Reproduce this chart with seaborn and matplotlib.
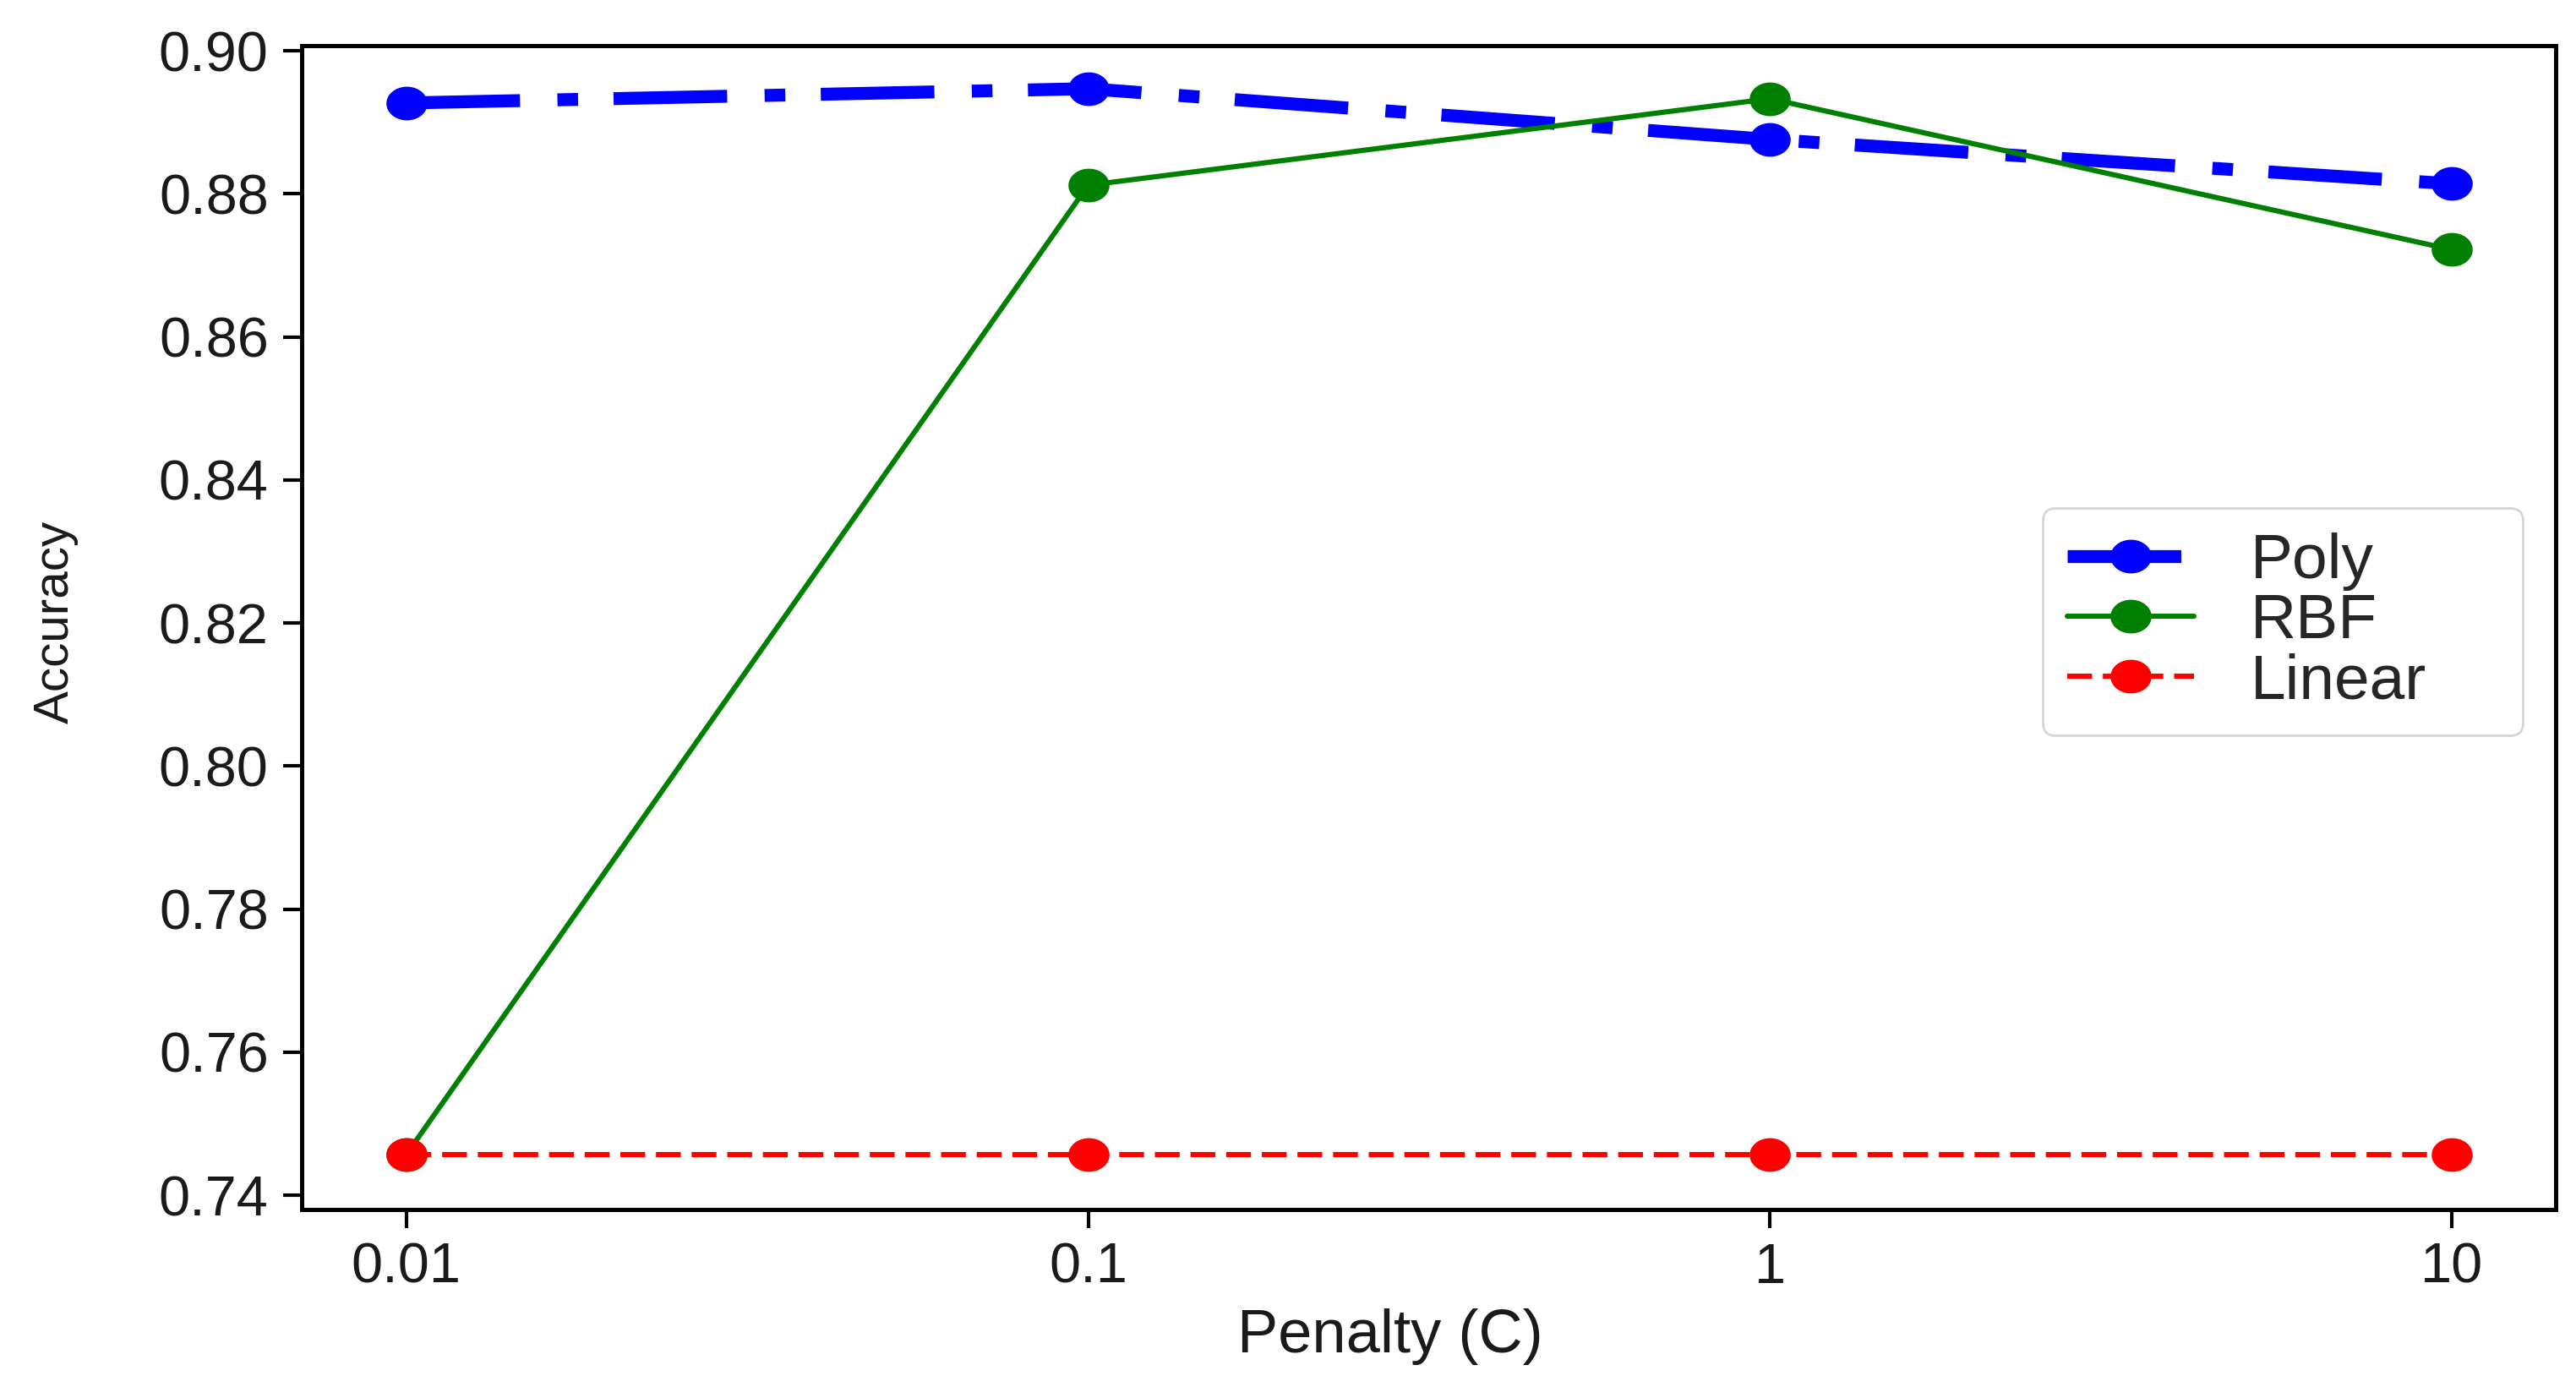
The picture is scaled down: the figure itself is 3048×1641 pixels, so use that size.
import matplotlib
matplotlib.use("Agg")
import matplotlib.pyplot as plt
import seaborn as sns
import pandas as pd
import numpy as np
from matplotlib.path import Path

# ---- data ----
penalty_c = [0.01, 0.1, 1, 10]
tick_labels = ["0.01", "0.1", "1", "10"]
poly_acc = [0.8927, 0.8947, 0.8876, 0.8814]
rbf_acc = [0.7457, 0.8812, 0.8933, 0.8722]
linear_acc = [0.7457, 0.7457, 0.7457, 0.7457]
y_ticks = [0.74, 0.76, 0.78, 0.80, 0.82, 0.84, 0.86, 0.88, 0.90]

sns.set_theme(style="ticks")
plt.rcParams["font.family"] = ["Liberation Sans", "DejaVu Sans"]
plt.rcParams["axes.edgecolor"] = "black"
plt.rcParams["axes.linewidth"] = 1.8
plt.rcParams["xtick.major.size"] = 8
plt.rcParams["ytick.major.size"] = 8
plt.rcParams["xtick.major.width"] = 1.5
plt.rcParams["ytick.major.width"] = 1.5
plt.rcParams["xtick.color"] = "black"
plt.rcParams["ytick.color"] = "black"

# slightly wide elliptical marker (reference image is horizontally stretched)
_t = np.linspace(0, 2 * np.pi, 60)
ellipse = Path(np.column_stack([1.22 * np.cos(_t), np.sin(_t)]), closed=True)

fig = plt.figure(figsize=(15.24, 8.205), dpi=200)
ax = fig.add_axes([0.117, 0.128, 0.875, 0.839])

df_poly = pd.DataFrame({"C": penalty_c, "acc": poly_acc})
df_rbf = pd.DataFrame({"C": penalty_c, "acc": rbf_acc})
df_lin = pd.DataFrame({"C": penalty_c, "acc": linear_acc})

msize = 17.5
sns.lineplot(data=df_poly, x="C", y="acc", ax=ax, color="#0000ff",
             linestyle=(0, (8.8, 2.9, 1.6, 2.75)), linewidth=5.5,
             marker=ellipse, markersize=msize, markeredgewidth=0, label="Poly")
sns.lineplot(data=df_rbf, x="C", y="acc", ax=ax, color="green", linestyle="-",
             linewidth=2.2, marker=ellipse, markersize=msize, markeredgewidth=0, label="RBF")
sns.lineplot(data=df_lin, x="C", y="acc", ax=ax, color="red",
             linestyle=(0, (4.8, 2.1)), linewidth=2.2,
             marker=ellipse, markersize=msize, markeredgewidth=0, label="Linear")

ax.set_xscale("log")
ax.set_xticks(penalty_c)
ax.set_xticklabels(tick_labels)
ax.minorticks_off()
ax.set_xlim(10 ** (-2 - 0.154), 10 ** (1 + 0.152))
ax.set_ylim(0.738, 0.9007)
ax.set_yticks(y_ticks)
ax.set_yticklabels([f"{v:.2f}" for v in y_ticks])
ax.tick_params(axis="both", labelsize=24, colors="black", labelcolor="#1a1a1a", pad=6)

ax.set_xlabel("Penalty (C)", fontsize=26, color="#1a1a1a", labelpad=6)
ax.xaxis.set_label_coords(0.483, -0.085)
ax.set_ylabel("Accuracy", fontsize=21, color="#1a1a1a")
ax.yaxis.set_label_coords(-0.099, 0.505)

for s in ax.spines.values():
    s.set_visible(True)
    s.set_color("black")

leg = ax.legend(loc="center left", bbox_to_anchor=(0.7726, 0.505, 0.2128, 0.0),
                mode="expand", fontsize=27, frameon=True, framealpha=0.8,
                edgecolor="#cccccc", handlelength=2.0, handletextpad=0.9,
                borderaxespad=0.0, labelspacing=0.03, borderpad=0.38)

fig.savefig("out.png", dpi=200, facecolor="white")
